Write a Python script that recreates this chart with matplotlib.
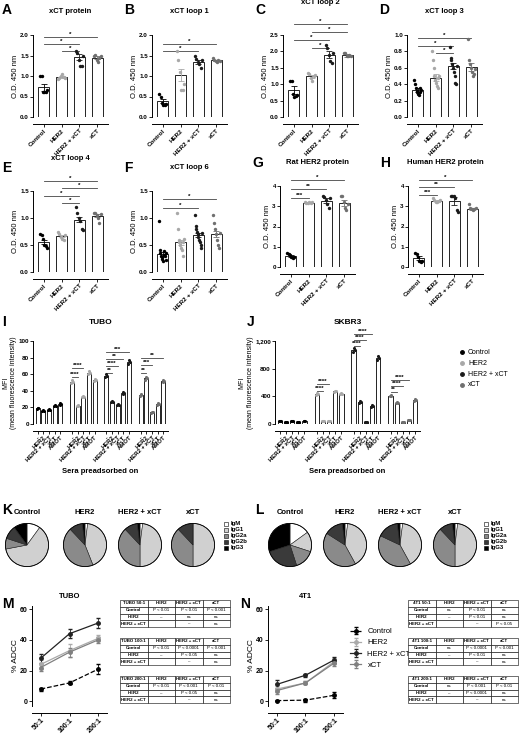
import numpy as np
import matplotlib
matplotlib.use("Agg")
import matplotlib.pyplot as plt

W, H = 520, 739
plt.rcParams["font.family"] = ["Liberation Sans", "DejaVu Sans"]
plt.rcParams["font.weight"] = "bold"
plt.rcParams["axes.linewidth"] = 0.7

groups = ["Control", "HER2", "HER2 + xCT", "xCT"]
dot_colors = ["#000000", "#a8a8a8", "#1a1a1a", "#707070"]

# ---- A-H: ELISA O.D. 450 nm ----
elisa = {
    "A": dict(title="xCT protein", ymax=2.0, step=0.5, fmt="%.1f",
              means=[0.72, 0.98, 1.46, 1.45], sems=[0.08, 0.03, 0.07, 0.04],
              pts=[[1.0, 1.0, 0.6, 0.6, 0.62, 0.65], [0.92, 0.95, 1.0, 1.05, 0.98, 0.96],
                   [1.6, 1.55, 1.4, 1.25, 1.25, 1.5], [1.5, 1.52, 1.4, 1.35, 1.45, 1.5]],
              sig=[(0, 3, 1.95, "*"), (0, 2, 1.77, "*"), (1, 2, 1.6, "*")]),
    "B": dict(title="xCT loop 1", ymax=2.0, step=0.5, fmt="%.1f",
              means=[0.38, 1.02, 1.35, 1.38], sems=[0.05, 0.15, 0.05, 0.02],
              pts=[[0.55, 0.5, 0.35, 0.3, 0.3, 0.32], [1.6, 1.4, 1.1, 0.65, 0.65, 0.8],
                   [1.5, 1.42, 1.35, 1.3, 1.2, 1.4], [1.45, 1.38, 1.37, 1.35, 1.4, 1.36]],
              sig=[(0, 3, 1.78, "*"), (0, 2, 1.6, "*")]),
    "C": dict(title="xCT loop 2", ymax=2.5, step=0.5, fmt="%.1f",
              means=[0.83, 1.24, 1.90, 1.88], sems=[0.12, 0.05, 0.1, 0.04],
              pts=[[1.1, 1.1, 0.7, 0.6, 0.65, 0.68], [1.35, 1.3, 1.2, 1.1, 1.25, 1.28],
                   [2.2, 2.1, 1.9, 1.7, 1.65, 1.95], [1.95, 1.95, 1.85, 1.85, 1.9, 1.87]],
              sig=[(0, 3, 2.85, "*"), (1, 3, 2.6, "*"), (0, 2, 2.35, "*"), (1, 2, 2.1, "*")]),
    "D": dict(title="xCT loop 3", ymax=1.0, step=0.2, fmt="%.1f",
              means=[0.33, 0.48, 0.62, 0.61], sems=[0.02, 0.04, 0.04, 0.05],
              pts=[[0.45, 0.4, 0.35, 0.32, 0.3, 0.28, 0.27, 0.35, 0.3, 0.33],
                   [0.8, 0.7, 0.6, 0.5, 0.45, 0.42, 0.38, 0.35, 0.48, 0.5],
                   [0.85, 0.72, 0.7, 0.65, 0.6, 0.55, 0.5, 0.42, 0.4, 0.62],
                   [0.95, 0.7, 0.65, 0.6, 0.55, 0.5, 0.52, 0.58]],
              sig=[(0, 3, 0.96, "*"), (0, 2, 0.87, "*"), (1, 2, 0.78, "*")]),
    "E": dict(title="xCT loop 4", ymax=1.5, step=0.5, fmt="%.1f",
              means=[0.56, 0.66, 0.97, 1.04], sems=[0.04, 0.02, 0.05, 0.03],
              pts=[[0.7, 0.68, 0.62, 0.5, 0.48, 0.45], [0.75, 0.7, 0.65, 0.62, 0.6, 0.68],
                   [1.2, 1.1, 1.0, 0.95, 0.8, 0.78], [1.1, 1.1, 1.05, 1.0, 0.9, 1.08]],
              sig=[(0, 3, 1.68, "*"), (1, 3, 1.55, "*"), (0, 2, 1.41, "*"), (1, 2, 1.28, "*")]),
    "F": dict(title="xCT loop 6", ymax=1.5, step=0.5, fmt="%.1f",
              means=[0.33, 0.55, 0.69, 0.70], sems=[0.04, 0.05, 0.04, 0.06],
              pts=[[0.95, 0.4, 0.35, 0.3, 0.28, 0.25, 0.2, 0.38, 0.32, 0.3, 0.36, 0.22],
                   [1.1, 0.8, 0.6, 0.55, 0.5, 0.45, 0.4, 0.3, 0.55, 0.62],
                   [1.05, 0.85, 0.8, 0.75, 0.7, 0.65, 0.6, 0.55, 0.5, 0.45, 0.72],
                   [1.05, 0.9, 0.8, 0.7, 0.6, 0.5, 0.45, 0.72]],
              sig=[(0, 3, 1.35, "*"), (0, 2, 1.18, "*")]),
    "G": dict(title="Rat HER2 protein", ymax=4, step=1, fmt="%d",
              means=[0.55, 3.18, 3.27, 3.15], sems=[0.05, 0.02, 0.12, 0.15],
              pts=[[0.7, 0.65, 0.6, 0.5, 0.45, 0.5], [3.2, 3.18, 3.15, 3.2, 3.17, 3.19],
                   [3.5, 3.45, 3.3, 3.1, 2.9, 3.4], [3.5, 3.5, 3.2, 2.9, 2.8, 3.1]],
              sig=[(0, 3, 4.3, "*"), (0, 2, 3.85, "**"), (0, 1, 3.4, "***")]),
    "H": dict(title="Human HER2 protein", ymax=4, step=1, fmt="%d",
              means=[0.45, 3.25, 3.25, 2.88], sems=[0.08, 0.05, 0.2, 0.05],
              pts=[[0.7, 0.65, 0.5, 0.3, 0.25, 0.3], [3.4, 3.3, 3.2, 3.2, 3.25, 3.3],
                   [3.5, 3.5, 3.5, 3.4, 2.8, 2.7], [3.1, 2.9, 2.85, 2.8, 2.85, 2.9]],
              sig=[(0, 3, 4.3, "*"), (0, 2, 3.95, "**"), (0, 1, 3.55, "***")]),
}

# ---- I/J: flow cytometry MFI ----
sera = ["Control", "HER2", "HER2 + xCT", "xCT"]
preads = ["-", "HER2", "HER2 + xCT", "xCT", "AMOT"]
mfi_tubo = [[19, 16, 17, 22, 24], [51, 22, 33, 62, 53], [58, 27, 23, 37, 75], [35, 55, 14, 24, 52]]
mfi_skbr3 = [[40, 35, 40, 30, 40], [430, 45, 45, 470, 440], [1070, 320, 30, 260, 950], [410, 310, 25, 60, 350]]
sig_tubo = [(1, 1, 57, "****"), (1, 2, 67, "****"), (2, 1, 62, "**"), (2, 2, 70, "****"),
            (2, 3, 78, "**"), (2, 4, 87, "***"), (3, 1, 62, "**"), (3, 2, 71, "***"), (3, 4, 80, "**")]
sig_skbr3 = [(1, 1, 480, "****"), (1, 2, 580, "****"), (2, 1, 1130, "****"), (2, 2, 1220, "****"),
             (2, 3, 1300, "****"), (3, 1, 460, "**"), (3, 2, 550, "****"), (3, 3, 640, "****")]

# ---- K/L: isotype pies ----
isotypes = ["IgM", "IgG1", "IgG2a", "IgG2b", "IgG3"]
iso_colors = ["#ffffff", "#d0d0d0", "#8a8a8a", "#3a3a3a", "#000000"]
pie_tubo = [[10, 62, 8, 10, 10], [2, 42, 44, 10, 2], [2, 48, 38, 10, 2], [0, 50, 38, 12, 0]]
pie_skbr3 = [[15, 15, 15, 25, 30], [2, 40, 42, 14, 2], [2, 40, 40, 16, 2], [2, 48, 38, 10, 2]]

# ---- M/N: ADCC ----
ratios = ["50:1", "100:1", "200:1"]
adcc_tubo = [[8, 12, 21], [24, 33, 41], [28, 44, 51], [22, 32, 40]]
adcc_tubo_err = [[1, 1, 3], [3, 4, 2], [3, 3, 3], [2, 3, 2]]
adcc_4t1 = [[0.5, 0.8, 4], [8, 12, 26], [11, 17, 27], [7, 12, 25]]
adcc_4t1_err = [[0.5, 1, 2], [2, 1, 2], [3, 1, 2], [2, 1, 2]]
line_colors = ["#000000", "#aaaaaa", "#222222", "#808080"]

tab_cols = ["HER2", "HER2 + xCT", "xCT"]
tab_rows = ["Control", "HER2", "HER2 + xCT"]
tables_tubo = {
    "TUBO 50:1": [["P < 0.01", "P < 0.01", "P < 0.001"], ["\u2013", "ns", "ns"], ["", "\u2013", "ns"]],
    "TUBO 100:1": [["P < 0.01", "P < 0.0001", "P < 0.001"], ["\u2013", "P < 0.05", "ns"], ["", "\u2013", "ns"]],
    "TUBO 200:1": [["P < 0.01", "P < 0.001", "P < 0.01"], ["\u2013", "P < 0.05", "ns"], ["", "\u2013", "ns"]],
}
tables_4t1 = {
    "4T1 50:1": [["ns", "P < 0.01", "ns"], ["\u2013", "P < 0.01", "ns"], ["", "\u2013", "P < 0.05"]],
    "4T1 100:1": [["ns", "P < 0.0001", "P < 0.001"], ["\u2013", "P < 0.01", "ns"], ["", "\u2013", "ns"]],
    "4T1 200:1": [["ns", "P < 0.001", "P < 0.01"], ["\u2013", "P < 0.0001", "ns"], ["", "\u2013", "ns"]],
}

fig = plt.figure(figsize=(W / 100, H / 100), dpi=100)


def px(x, y, w, h):
    return fig.add_axes([x / W, 1 - (y + h) / H, w / W, h / H])


def letter(x, y, s):
    fig.text(x / W, 1 - y / H, s, fontsize=10, fontweight="bold", va="top", ha="left")


def prism(ax):
    for s in ["top", "right"]:
        ax.spines[s].set_visible(False)
    ax.spines["bottom"].set_position(("outward", 5))
    ax.tick_params(labelsize=4.5, width=0.6, length=2, pad=1)


def rot_labels(ax, labels, size=4.5):
    ax.set_xticklabels(labels, fontsize=size)
    for t in ax.get_xticklabels():
        t.set_rotation(45)
        t.set_ha("right")
        t.set_rotation_mode("anchor")


def elisa_panel(ax, d):
    x = np.arange(4)
    ax.bar(x, d["means"], width=0.6, color="white", edgecolor="black", linewidth=0.6, zorder=2)
    for i in range(4):
        ax.errorbar(x[i], d["means"][i], yerr=d["sems"][i], color=dot_colors[i], capsize=2,
                    elinewidth=0.6, capthick=0.6, zorder=3)
        n = len(d["pts"][i])
        jit = np.linspace(-0.2, 0.2, n)
        ax.scatter(x[i] + jit, d["pts"][i], s=6, color=dot_colors[i], zorder=4, linewidths=0)
    top = d["ymax"]
    for a, b, y, lab in d["sig"]:
        ax.plot([a, b], [y, y], color="#444", lw=0.6, clip_on=False)
        ax.text((a + b) / 2, y, lab, ha="center", va="bottom", fontsize=4.5)
    prism(ax)
    ax.set_ylim(0, top)
    ax.set_yticks(np.arange(0, top + 1e-9, d["step"]))
    ax.yaxis.set_major_formatter(matplotlib.ticker.FormatStrFormatter(d["fmt"]))
    ax.set_xlim(-0.6, 3.6)
    ax.set_xticks(x)
    rot_labels(ax, groups)
    ax.set_ylabel("O.D. 450 nm", fontsize=5.5, labelpad=1)
    ax.set_title(d["title"], fontsize=5.5, fontweight="bold", pad=(22 if len(d["sig"]) > 3 else 16))


pos = {"A": (33, 35), "B": (152, 35), "C": (283, 35), "D": (407, 35),
       "E": (33, 191), "F": (152, 191), "G": (280, 186), "H": (408, 186)}
for k, d in elisa.items():
    x0, y0 = pos[k]
    ax = px(x0, y0, 75, 82 if y0 < 100 else 81)
    elisa_panel(ax, d)
    letter(x0 - 31 if k in "AE" else x0 - 28, y0 - 32 if y0 < 100 else y0 - 30, k)


def mfi_panel(ax, vals, sig, ymax, ticks, labels, title):
    for c in range(4):
        for b in range(5):
            xp = c * 6 + b
            ax.bar(xp, vals[c][b], width=0.7, color="white", edgecolor="black", linewidth=0.6, zorder=2)
            v = vals[c][b]
            ax.scatter([xp - 0.15, xp, xp + 0.15], [v * 0.97, v * 1.03, v], s=5,
                       color=dot_colors[c], zorder=3, linewidths=0)
    for c, b, y, lab in sig:
        x1 = c * 6
        ax.plot([x1, x1 + b], [y, y], color="#444", lw=0.6, clip_on=False)
        ax.text(x1 + b / 2, y, lab, ha="center", va="bottom", fontsize=4.5)
    prism(ax)
    ax.set_ylim(0, ymax)
    ax.set_yticks(ticks)
    ax.set_yticklabels(labels)
    xs = [c * 6 + b for c in range(4) for b in range(5)]
    ax.set_xticks(xs)
    rot_labels(ax, preads * 4, 4.3)
    ax.set_xlim(-0.8, 22.8)
    ax.set_ylabel("MFI\n(mean fluorescence intensity)", fontsize=5, labelpad=1)
    ax.set_xlabel("Sera preadsorbed on", fontsize=5.5, fontweight="bold")
    ax.set_title(title, fontsize=6, fontweight="bold", pad=12)


axI = px(33, 341, 135, 83)
mfi_panel(axI, mfi_tubo, sig_tubo, 100, [0, 20, 40, 60, 80, 100], ["0", "20", "40", "60", "80", "100"], "TUBO")
letter(2, 315, "I")
axJ = px(275, 341, 145, 83)
mfi_panel(axJ, mfi_skbr3, sig_skbr3, 1200, [0, 400, 800, 1200], ["0", "400", "800", "1,200"], "SKBR3")
letter(247, 315, "J")
for i, s in enumerate(sera):
    fig.text(468 / W, 1 - (352 + i * 11) / H, s, fontsize=5, va="center", fontweight="normal")
    fig.add_artist(plt.Line2D([462 / W], [1 - (352 + i * 11) / H], marker="o", ms=2.5,
                              color=dot_colors[i], transform=fig.transFigure))

# pies
pie_title_pos = {"K": [27, 85, 140, 193], "L": [290, 345, 400, 455]}
for k, data in [("K", pie_tubo), ("L", pie_skbr3)]:
    for i, vals in enumerate(data):
        cx = pie_title_pos[k][i]
        ax = px(cx - 27, 518, 54, 54)
        ax.pie(vals, colors=iso_colors, startangle=90, counterclock=False,
               wedgeprops=dict(edgecolor="#222", linewidth=0.4))
        ax.add_patch(plt.Circle((0, 0), 1, fill=False, lw=0.6, ec="black"))
        ax.set_title(groups[i], fontsize=5.5, fontweight="bold", pad=3)
    lx = 224 if k == "K" else 484
    for j, iso in enumerate(isotypes):
        yy = 523 + j * 6
        fig.patches.append(plt.Rectangle((lx / W, 1 - (yy + 2.5) / H), 4 / W, 4 / H, fc=iso_colors[j],
                                         ec="black", lw=0.4, transform=fig.transFigure))
        fig.text((lx + 7) / W, 1 - yy / H, iso, fontsize=4.3, va="center")
letter(2, 503, "K")
letter(255, 503, "L")


def adcc_panel(ax, vals, errs, title):
    for i in range(4):
        ax.errorbar(range(3), vals[i], yerr=errs[i], color=line_colors[i], marker="o", ms=2.5,
                    lw=0.9, ls="--" if i == 0 else "-", capsize=1.5, elinewidth=0.6, label=sera[i])
    prism(ax)
    ax.set_ylim(-3, 62)
    ax.set_yticks([0, 20, 40, 60])
    ax.set_xlim(-0.3, 2.3)
    ax.set_xticks(range(3))
    rot_labels(ax, ratios, 5)
    ax.tick_params(axis="y", labelsize=5)
    ax.set_xlabel("E:T ratio", fontsize=5.5, fontweight="bold")
    ax.set_ylabel("% ADCC", fontsize=6, labelpad=1)
    ax.set_title(title, fontsize=5.5, fontweight="bold", pad=6)


def p_tables(x0, tabs):
    for t, (name, rows) in enumerate(tabs.items()):
        ax = px(x0, 600 + t * 38, 110, 27)
        ax.axis("off")
        cells = [[name] + tab_cols] + [[tab_rows[r]] + rows[r] for r in range(3)]
        tb = ax.table(cellText=cells, bbox=[0, 0, 1, 1], cellLoc="center")
        tb.auto_set_font_size(False)
        tb.set_fontsize(3.2)
        for (r, c), cell in tb.get_celld().items():
            cell.set_linewidth(0.4)
            cell.get_text().set_fontweight("bold" if (r == 0 or c == 0) else "normal")


axM = px(32, 606, 75, 100)
adcc_panel(axM, adcc_tubo, adcc_tubo_err, "TUBO")
letter(2, 597, "M")
p_tables(120, tables_tubo)

axN = px(268, 606, 75, 100)
adcc_panel(axN, adcc_4t1, adcc_4t1_err, "4T1")
letter(240, 597, "N")
axN.legend(loc="upper left", bbox_to_anchor=(1.0, 0.85), frameon=False,
           handlelength=1.5, prop=dict(size=5.5, weight="normal"))
p_tables(408, tables_4t1)

fig.savefig("out.png", dpi=100)
